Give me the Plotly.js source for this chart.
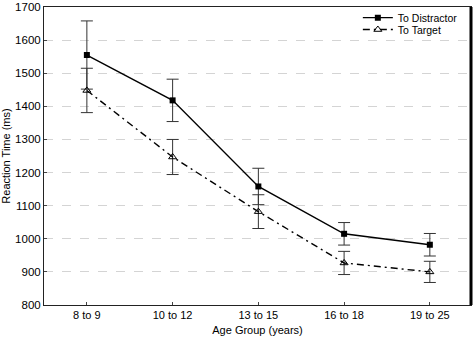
<!DOCTYPE html>
<html>
<head>
<meta charset="utf-8">
<script src="https://cdn.plot.ly/plotly-3.0.1.min.js"></script>
<style>html,body{margin:0;padding:0;background:#fff;}#chart{width:474px;height:338px;}</style>
</head>
<body>
<div id="chart"></div>
<script>
var categories = ["8 to 9", "10 to 12", "13 to 15", "16 to 18", "19 to 25"];
var distractorRT = [1555, 1418, 1158, 1015, 982];
var distractorErr = [103, 64, 55, 34, 34];
var targetRT = [1448, 1247, 1082, 927, 900];
var targetErr = [67, 53, 51, 35, 32];
var yTicks = [800, 900, 1000, 1100, 1200, 1300, 1400, 1500, 1600, 1700];

var xIdx = categories.map(function (c, i) { return i; });

var traces = [
  {
    x: xIdx, y: distractorRT, name: "To Distractor", type: "scatter", mode: "lines+markers",
    legend: "legend",
    line: {color: "#000", width: 1.4},
    marker: {symbol: "square", size: 6, color: "#000"},
    error_y: {type: "data", array: distractorErr, visible: true, color: "#333", thickness: 1, width: 6}
  },
  {
    x: xIdx, y: targetRT, name: "To Target", type: "scatter", mode: "lines+markers",
    legend: "legend2",
    line: {color: "#000", width: 1.4, dash: "7px,4px,2px,4px"},
    marker: {symbol: "triangle-up-open", size: 7, color: "#000", line: {width: 1}},
    error_y: {type: "data", array: targetErr, visible: true, color: "#333", thickness: 1, width: 6}
  }
];

var legendCommon = {xanchor: "left", yanchor: "top", bgcolor: "rgba(0,0,0,0)",
                    font: {size: 10.5}, itemwidth: 30, tracegroupgap: 0};

var layout = {
  width: 474, height: 338,
  margin: {l: 44, r: 3, t: 5, b: 33},
  paper_bgcolor: "#fff", plot_bgcolor: "#fff",
  font: {family: "Liberation Sans, Arial, sans-serif", color: "#000", size: 11},
  showlegend: true,
  legend: Object.assign({}, legendCommon, {x: 0.735, y: 1.013}),
  legend2: Object.assign({}, legendCommon, {x: 0.735, y: 0.973}),
  xaxis: {
    range: [-0.5, 4.48], tickmode: "array", tickvals: xIdx, ticktext: categories,
    showgrid: false, zeroline: false, showline: true, linecolor: "#222", linewidth: 1, mirror: true,
    ticks: "inside", ticklen: 3, tickcolor: "#444", tickfont: {size: 11},
    title: {text: "Age Group (years)", font: {size: 11}, standoff: 6}
  },
  yaxis: {
    range: [800, 1700], tickmode: "array", tickvals: yTicks, ticklabeloverflow: "allow",
    showgrid: true, gridcolor: "#d4d4d4", griddash: "dash", gridwidth: 1,
    zeroline: false, showline: true, linecolor: "#222", linewidth: 1, mirror: true,
    ticks: "inside", ticklen: 3, tickcolor: "#444", tickfont: {size: 11.5},
    title: {text: "Reaction Time (ms)", font: {size: 11}, standoff: 4}
  },
  shapes: [
    {type: "line", xref: "paper", yref: "paper", x0: 1, x1: 1, y0: 0, y1: 1,
     line: {color: "#000", width: 3}}
  ]
};

Plotly.newPlot("chart", traces, layout, {displayModeBar: false, staticPlot: true});
</script>
</body>
</html>
